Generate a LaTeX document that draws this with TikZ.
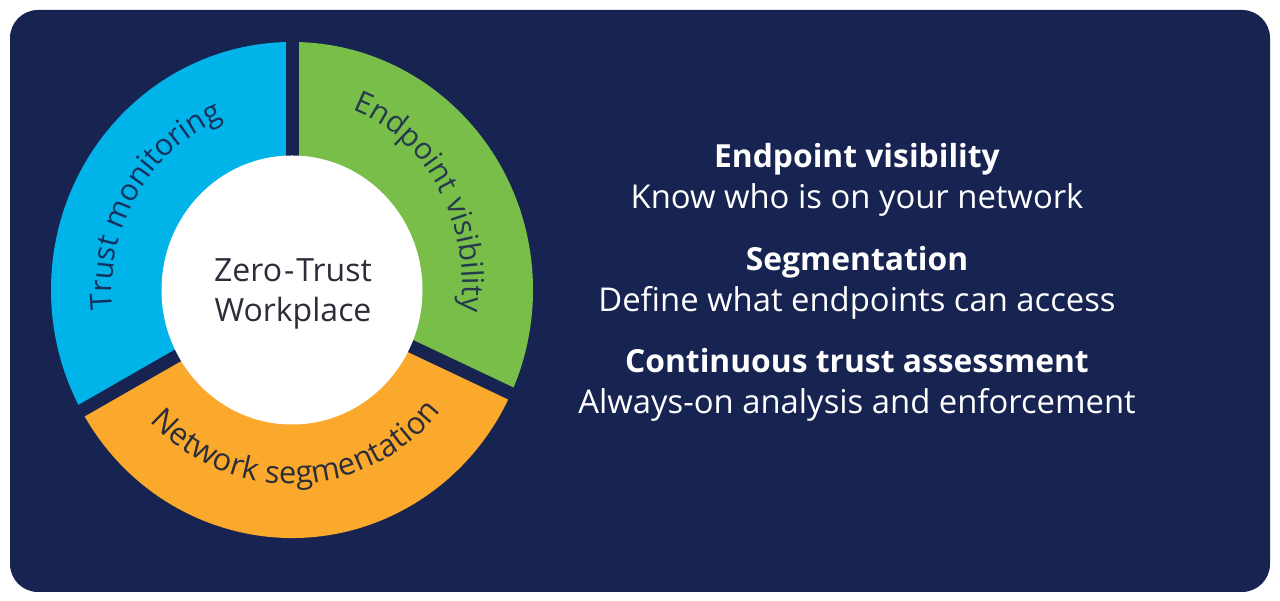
\documentclass[tikz,border=0pt]{standalone}
\usepackage{fontspec}
\setmainfont{Open Sans}
\usetikzlibrary{shapes.geometric,decorations.text}

\definecolor{panelnavy}{HTML}{172350}
\definecolor{trustblue}{HTML}{00B4EA}
\definecolor{endpointgreen}{HTML}{78BE48}
\definecolor{segorange}{HTML}{FBA92C}
\definecolor{bodygrey}{HTML}{2B2E38}

\tikzstyle{panel}=[fill=panelnavy,rounded corners=28pt]
\tikzstyle{gap}=[draw=panelnavy,line width=13pt]
\tikzstyle{hub}=[ellipse,fill=white,minimum width=261pt,minimum height=269pt,inner sep=0pt]
\tikzstyle{hubtext}=[align=center,text=bodygrey,font=\fontsize{32}{40}\selectfont]
\tikzstyle{heading}=[anchor=base,text=white,font=\fontsize{31.8}{36}\selectfont\bfseries]
\tikzstyle{detail}=[anchor=base,text=white,font=\fontsize{32.8}{36}\selectfont]
\tikzstyle{ringlabel}=[decorate,decoration={text along path,text align={fit to path},raise=0pt}]

\begin{document}
\begin{tikzpicture}[x=1pt,y=1pt]
	\useasboundingbox (0,0) rectangle (1280,601);
	\path[panel] (10,9) rectangle (1270,591);
	\coordinate (centre) at (292,311);
	%Ring sectors
	\fill[trustblue] (centre) -- ([shift={(90:241 and 248)}]centre) arc[start angle=90,end angle=209,x radius=241,y radius=248] -- cycle;
	\fill[endpointgreen] (centre) -- ([shift={(90:241 and 248)}]centre) arc[start angle=90,end angle=-25.4,x radius=241,y radius=248] -- cycle;
	\fill[segorange] (centre) -- ([shift={(209:241 and 248)}]centre) arc[start angle=209,end angle=334.6,x radius=241,y radius=248] -- cycle;
	%Gaps between the sectors
	\coordinate (gaptop) at (292,575);
	\coordinate (gapright) at (531,198);
	\coordinate (gapleft) at (60,178);
	\foreach \name in {gaptop,gapright,gapleft}
		\draw[gap] (centre) -- (\name);
	%Centre
	\node[hub] (hub) at (centre) {};
	\node[hubtext] (hublabel) at (293,307) {Zero\kern2pt-\kern2pt Trust\\Workplace};
	%Ring labels
	\coordinate (truststart) at ([shift={(186:180 and 185)}]centre);
	\coordinate (endpointstart) at (352,491);
	\coordinate (networkstart) at (150,180);
	\path[ringlabel,decoration={text={|\fontsize{30}{36}\selectfont\color{panelnavy!90!trustblue}|Trust monitoring}}]
		(truststart) arc[start angle=186,end angle=113,x radius=180,y radius=185];
	\path[ringlabel,decoration={text={|\fontsize{30}{36}\selectfont\color{panelnavy!85!endpointgreen}|Endpoint visibility}}]
		(endpointstart) arc[start angle=72,end angle=-7,x radius=160,y radius=186];
	\path[ringlabel,decoration={text={|\fontsize{31}{36}\selectfont\color{bodygrey}|Network segmentation}}]
		(networkstart) arc[start angle=222,end angle=322,x radius=190,y radius=190];
	%Right column
	\foreach \pos/\name/\txt in {{(857,433)/headone/Endpoint visibility},
								{(857,330)/headtwo/Segmentation},
								{(857,228)/headthree/Continuous trust assessment}}
		\node[heading] (\name) at \pos {\txt};
	\foreach \pos/\name/\txt in {{(857,392)/lineone/Know who is on your network},
								{(857,289)/linetwo/Define what endpoints can access},
								{(857,187)/linethree/Always-on analysis and enforcement}}
		\node[detail] (\name) at \pos {\txt};
\end{tikzpicture}
\end{document}
